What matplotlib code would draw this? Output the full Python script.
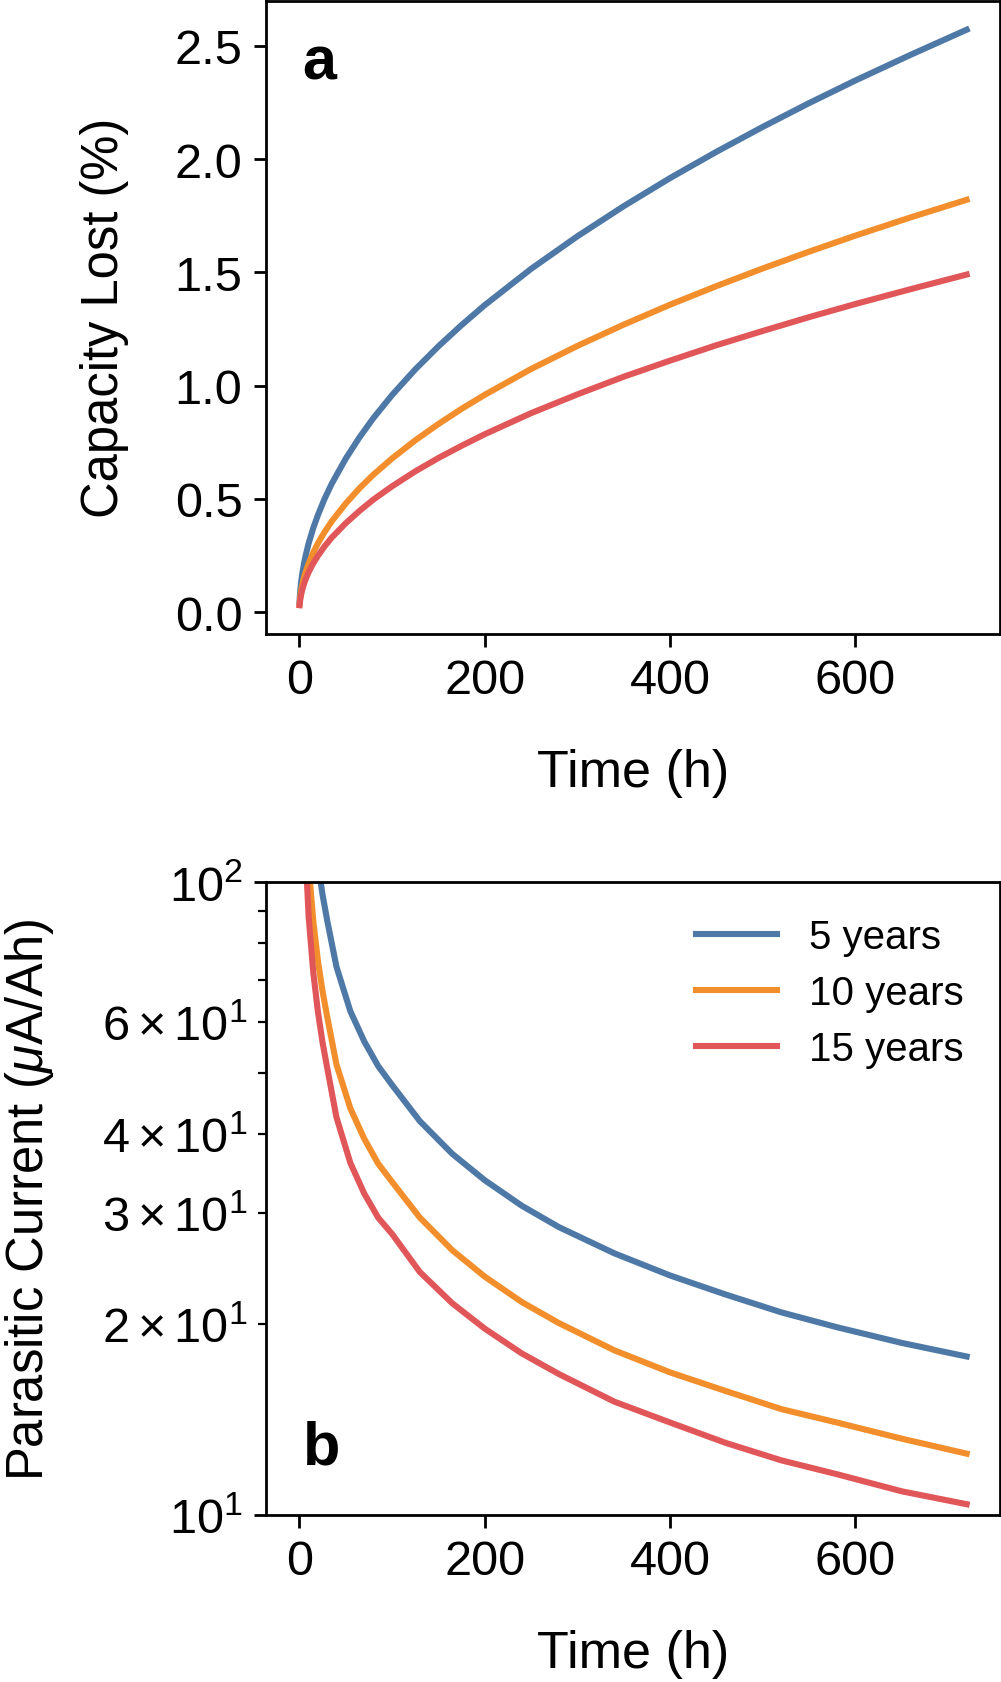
"""Capacity loss and parasitic current over storage time."""

import matplotlib

matplotlib.use("Agg")
from matplotlib import pyplot as plt  # noqa: E402

plt.rcParams["font.family"] = ["Liberation Sans", "DejaVu Sans"]
plt.rcParams["mathtext.fontset"] = "custom"
plt.rcParams["mathtext.rm"] = "Liberation Sans"
plt.rcParams["mathtext.it"] = "Liberation Sans:italic"
plt.rcParams["mathtext.default"] = "regular"

labels = ["5 years", "10 years", "15 years"]
colors = ["#4e79a7", "#f28e2b", "#e15759"]

# panel a: capacity lost (%)
time_a = [0.2, 0.5, 1, 2, 3, 5, 7, 10, 15, 20, 27, 35, 50, 65, 80, 100, 125, 150, 175,
          200, 250, 300, 350, 400, 450, 500, 550, 600, 660, 720]
lost_5y = [0.043, 0.068, 0.096, 0.135, 0.166, 0.214, 0.253, 0.303, 0.371, 0.428, 0.498,
           0.567, 0.677, 0.772, 0.857, 0.958, 1.071, 1.173, 1.267, 1.355, 1.515, 1.659,
           1.792, 1.916, 2.032, 2.142, 2.247, 2.347, 2.461, 2.571]
lost_10y = [0.032, 0.048, 0.068, 0.096, 0.117, 0.152, 0.179, 0.214, 0.263, 0.303, 0.352,
            0.401, 0.479, 0.547, 0.607, 0.678, 0.758, 0.830, 0.897, 0.959, 1.073, 1.175,
            1.269, 1.357, 1.439, 1.517, 1.591, 1.662, 1.743, 1.820]
lost_15y = [0.030, 0.040, 0.056, 0.078, 0.096, 0.124, 0.147, 0.176, 0.215, 0.248, 0.289,
            0.329, 0.392, 0.447, 0.497, 0.555, 0.621, 0.680, 0.734, 0.785, 0.878, 0.961,
            1.039, 1.110, 1.178, 1.241, 1.302, 1.360, 1.426, 1.490]

# panel b: parasitic current (uA/Ah)
time_b = [5, 10, 15, 20, 25, 30, 40, 55, 70, 85, 100, 130, 165, 200, 240, 280, 340, 400,
          460, 520, 580, 650, 720]
current_5y = [213, 151, 123, 107, 95.5, 87, 73.5, 62.5, 56.0, 51.2, 47.8, 41.9, 37.2, 33.8,
              30.8, 28.5, 25.9, 23.9, 22.3, 20.9, 19.8, 18.7, 17.8]
current_10y = [150, 106, 86.8, 75.1, 67.2, 61.3, 51.5, 43.9, 39.3, 35.9, 33.6, 29.5, 26.2,
               23.8, 21.7, 20.1, 18.2, 16.8, 15.7, 14.7, 14.0, 13.2, 12.5]
current_15y = [125, 88.2, 72, 62.4, 55.8, 50.9, 42.5, 36.0, 32.2, 29.5, 27.8, 24.2, 21.6,
               19.7, 18.0, 16.7, 15.1, 14.0, 13.0, 12.2, 11.6, 10.9, 10.4]

W, H = 1001, 1683
fig = plt.figure(figsize=(W / 100, H / 100), dpi=100)
ax_a = fig.add_axes([266 / W, 1 - 635 / H, 734 / W, 633.5 / H])
ax_b = fig.add_axes([266 / W, 1 - 1516 / H, 734 / W, 633 / H])

lw = 4.4
for series, color, label in zip([lost_5y, lost_10y, lost_15y], colors, labels):
    ax_a.plot(time_a, series, color=color, lw=lw, label=label)
for series, color, label in zip([current_5y, current_10y, current_15y], colors, labels):
    ax_b.plot(time_b, series, color=color, lw=lw, label=label)

ax_a.set_xlim(-36, 756)
ax_a.set_ylim(-0.097, 2.70)
ax_a.set_yticks([0.0, 0.5, 1.0, 1.5, 2.0, 2.5])
ax_b.set_xlim(-36, 756)
ax_b.set_yscale("log")
ax_b.set_ylim(10, 100)

for ax in (ax_a, ax_b):
    ax.set_xticks([0, 200, 400, 600])
    ax.tick_params(which="major", length=9, width=2.0, labelsize=35, pad=8)
    ax.tick_params(which="minor", length=5.5, width=1.6, labelsize=35, pad=8)
    for spine in ax.spines.values():
        spine.set_linewidth(2.0)
    ax.set_xlabel("Time (h)", fontsize=37.5, labelpad=33)

ax_a.set_ylabel("Capacity Lost (%)", fontsize=36.5, labelpad=33)
ax_b.set_ylabel(r"Parasitic Current ($\mathit{\mu}$A/Ah)", fontsize=36.5, labelpad=33)

ax_a.text(0.073, 0.902, "a", transform=ax_a.transAxes, fontsize=44, fontweight="bold",
          ha="center", va="center")
ax_b.text(0.076, 0.106, "b", transform=ax_b.transAxes, fontsize=44, fontweight="bold",
          ha="center", va="center")

ax_b.legend(loc="upper right", frameon=False, fontsize=29, labelspacing=0.45,
            handlelength=2.0, handletextpad=0.8)

fig.savefig("out.png", dpi=100)
